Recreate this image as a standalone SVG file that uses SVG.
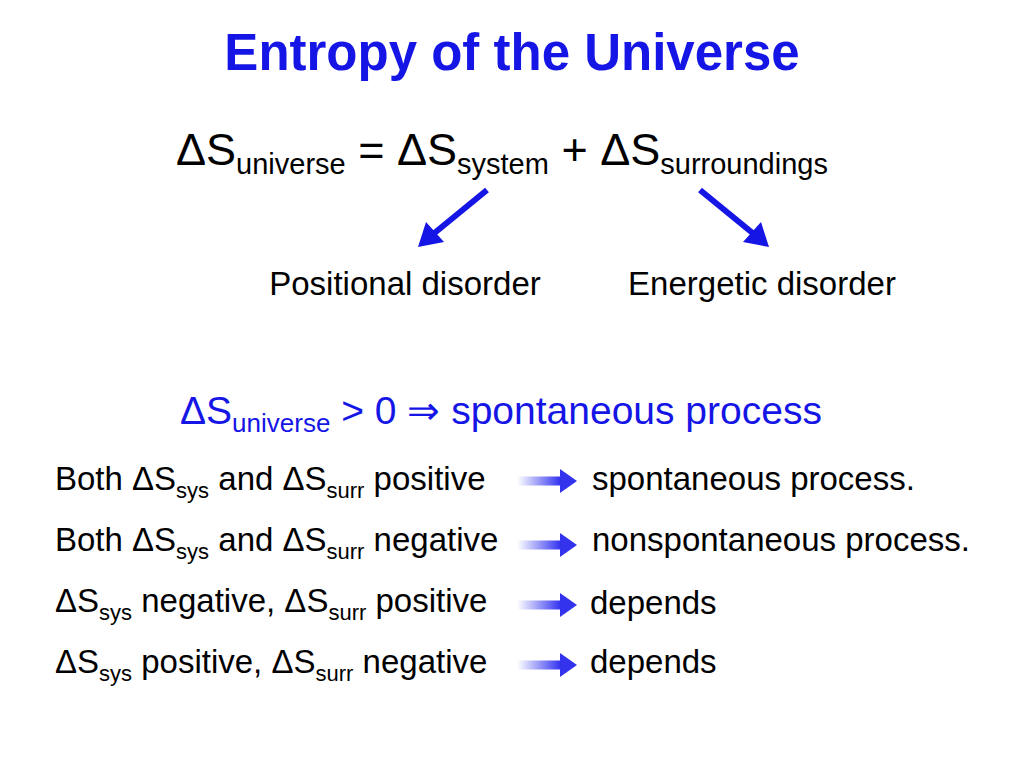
<svg xmlns="http://www.w3.org/2000/svg" width="1024" height="768" viewBox="0 0 1024 768">
<style>
text{font-family:"Liberation Sans",Arial,sans-serif;fill:#000}
.t{font-size:33px}
.s{font-size:22px}
.b{fill:#1515e6}
</style>
<defs>
<linearGradient id="g" x1="0" x2="1"><stop offset="0" stop-color="#3a3af0" stop-opacity="0"/><stop offset="1" stop-color="#3030f0"/></linearGradient>
<g id="ga"><rect x="0" y="-4.5" width="44" height="9" fill="url(#g)"/><polygon points="43,-12 60,0 43,12" fill="#3333ee"/></g>
</defs>
<rect width="1024" height="768" fill="#fff"/>
<text x="512" y="70" text-anchor="middle" font-size="51" font-weight="bold" class="b">Entropy of the Universe</text>
<g id="eq"><text x="176" y="165" font-size="45">ΔS<tspan font-size="29" dy="9">universe</tspan><tspan dy="-9"> = ΔS</tspan><tspan font-size="29" dy="9">system</tspan><tspan dy="-9"> + ΔS</tspan><tspan font-size="29" dy="9">surroundings</tspan></text></g>
<g id="connectors">
<line x1="487" y1="190" x2="432" y2="235" stroke="#1515e6" stroke-width="6"/>
<polygon points="418,247 426,222 444,242" fill="#1515e6"/>
<line x1="700" y1="190" x2="755" y2="235" stroke="#1515e6" stroke-width="6"/>
<polygon points="769,247 743,242 761,222" fill="#1515e6"/>
<use href="#ga" x="517" y="481"/>
<use href="#ga" x="517" y="545"/>
<use href="#ga" x="517" y="605"/>
<use href="#ga" x="517" y="665"/>
</g>
<g id="pos"><text x="405" y="295" text-anchor="middle" font-size="33">Positional disorder</text></g>
<g id="en"><text x="762" y="295" text-anchor="middle" font-size="33">Energetic disorder</text></g>
<g id="cond"><text x="180" y="424" font-size="39" class="b">ΔS<tspan font-size="26" dy="8" class="b">universe</tspan><tspan dy="-8" class="b"> &gt; 0 ⇒ spontaneous process</tspan></text></g>
<g id="r1"><text x="55" y="490" class="t">Both ΔS<tspan class="s" dy="8">sys</tspan><tspan dy="-8"> and ΔS</tspan><tspan class="s" dy="8">surr</tspan><tspan dy="-8"> positive</tspan></text><text x="592" y="490" class="t">spontaneous process.</text></g>
<g id="r2"><text x="55" y="551" class="t">Both ΔS<tspan class="s" dy="8">sys</tspan><tspan dy="-8"> and ΔS</tspan><tspan class="s" dy="8">surr</tspan><tspan dy="-8"> negative</tspan></text><text x="592" y="551" class="t">nonspontaneous process.</text></g>
<g id="r3"><text x="55" y="612" class="t">ΔS<tspan class="s" dy="8">sys</tspan><tspan dy="-8"> negative, ΔS</tspan><tspan class="s" dy="8">surr</tspan><tspan dy="-8"> positive</tspan></text><text x="590" y="614" class="t">depends</text></g>
<g id="r4"><text x="55" y="673" class="t">ΔS<tspan class="s" dy="8">sys</tspan><tspan dy="-8"> positive, ΔS</tspan><tspan class="s" dy="8">surr</tspan><tspan dy="-8"> negative</tspan></text><text x="590" y="673" class="t">depends</text></g>
</svg>
